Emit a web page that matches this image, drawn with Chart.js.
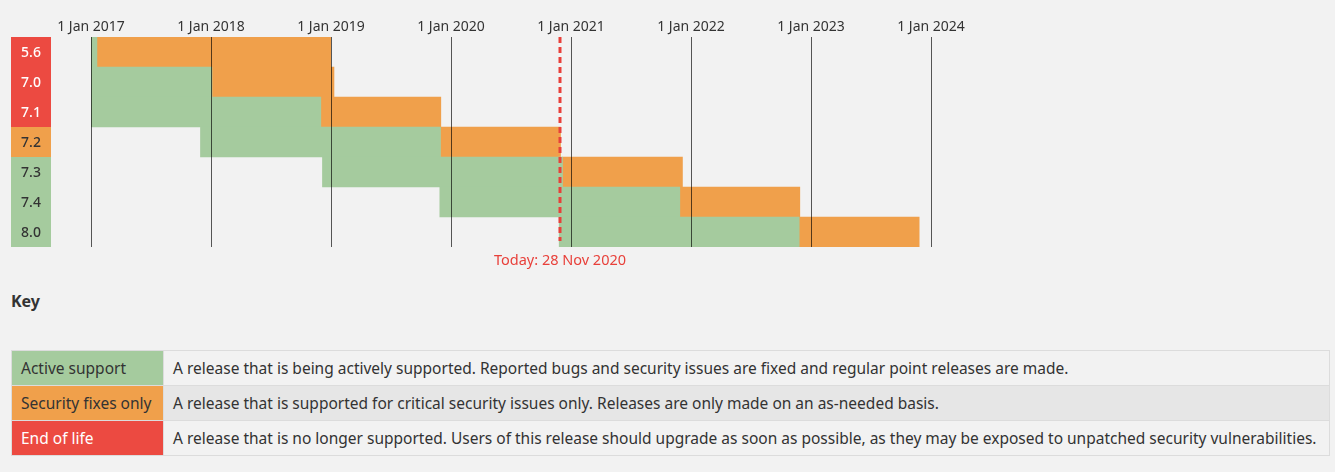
<!DOCTYPE html>
<html>
<head>
<meta charset="utf-8">
<script src="https://cdn.jsdelivr.net/npm/chart.js@4/dist/chart.umd.min.js"></script>
<style>
  body { margin: 0; background: #f2f2f2; font-family: "Noto Sans", sans-serif; color: #333; }
  #wrap { position: relative; width: 1335px; height: 280px; }
  h3 { margin: 0; position: absolute; left: 11px; top: 290px; font-size: 16px; font-weight: 700; }
  table { position: absolute; left: 11px; top: 350px; width: 1319px; border-collapse: collapse; font-size: 15.5px; }
  td { border: 1px solid #dcdcdc; height: 34px; padding: 0 0 0 9px; }
  td.k { width: 142px; }
  tr:nth-child(2) td.d { background: #e6e6e6; }
</style>
</head>
<body>
<div id="wrap"><canvas id="branches"></canvas></div>
<h3>Key</h3>
<table>
  <tr><td class="k" style="background:#a5cb9e">Active support</td><td class="d">A release that is being actively supported. Reported bugs and security issues are fixed and regular point releases are made.</td></tr>
  <tr><td class="k" style="background:#f0a04b">Security fixes only</td><td class="d">A release that is supported for critical security issues only. Releases are only made on an as-needed basis.</td></tr>
  <tr><td class="k" style="background:#ec4a41;color:#fff">End of life</td><td class="d">A release that is no longer supported. Users of this release should upgrade as soon as possible, as they may be exposed to unpatched security vulnerabilities.</td></tr>
</table>
<script>
// branches and their support dates
const versions = ['5.6', '7.0', '7.1', '7.2', '7.3', '7.4', '8.0'];
const released = ['2014-08-28', '2015-12-03', '2016-12-01', '2017-11-30', '2018-12-06', '2019-11-28', '2020-11-26'];
const activeEnd = ['2017-01-19', '2018-01-04', '2018-12-01', '2019-11-30', '2020-12-06', '2021-11-28', '2022-11-26'];
const securityEnd = ['2018-12-31', '2019-01-10', '2019-12-01', '2020-11-30', '2021-12-06', '2022-11-28', '2023-11-26'];
const status = ['eol', 'eol', 'eol', 'security', 'stable', 'stable', 'stable'];
const today = '2020-11-28';
const firstYear = 2017;
const lastYear = 2024;

const colours = { stable: '#a5cb9e', security: '#f0a04b', eol: '#ec4a41' };

// date string -> fractional year
function toYear(s) {
    const d = new Date(s + 'T00:00:00Z');
    const y = d.getUTCFullYear();
    const start = Date.UTC(y, 0, 1), end = Date.UTC(y + 1, 0, 1);
    return y + (d - start) / (end - start);
}

// coloured version boxes on the left
const versionBoxes = {
    id: 'versionBoxes',
    afterDraw(chart) {
        const ctx = chart.ctx, y = chart.scales.y;
        const h = chart.chartArea.height / versions.length;
        ctx.save();
        ctx.font = '500 14px "Noto Sans"';
        ctx.textAlign = 'center';
        ctx.textBaseline = 'middle';
        versions.forEach((v, i) => {
            const cy = y.getPixelForValue(i);
            ctx.fillStyle = colours[status[i]];
            ctx.fillRect(11, cy - h / 2, 40, h);
            ctx.fillStyle = status[i] === 'eol' ? '#fff' : '#333';
            ctx.fillText(v, 31, cy + 1);
        });
        ctx.restore();
    }
};

// dashed "today" marker
const todayLine = {
    id: 'todayLine',
    afterDraw(chart) {
        const ctx = chart.ctx, area = chart.chartArea;
        const x = Math.round(chart.scales.x.getPixelForValue(toYear(today)));
        ctx.save();
        ctx.strokeStyle = '#e8403a';
        ctx.lineWidth = 3;
        ctx.setLineDash([6, 4]);
        ctx.beginPath();
        ctx.moveTo(x, area.top);
        ctx.lineTo(x, area.bottom - 6);
        ctx.stroke();
        ctx.fillStyle = '#e8403a';
        ctx.font = '14.5px "Noto Sans"';
        ctx.textAlign = 'center';
        ctx.textBaseline = 'middle';
        ctx.fillText('Today: 28 Nov 2020', x, area.bottom + 14);
        ctx.restore();
    }
};

new Chart(document.getElementById('branches'), {
    type: 'bar',
    data: {
        labels: versions,
        datasets: [{
            label: 'Active support',
            data: versions.map((v, i) => [toYear(released[i]), toYear(activeEnd[i])]),
            backgroundColor: colours.stable
        }, {
            label: 'Security fixes only',
            data: versions.map((v, i) => [toYear(activeEnd[i]), toYear(securityEnd[i])]),
            backgroundColor: colours.security
        }]
    },
    options: {
        indexAxis: 'y',
        responsive: true,
        maintainAspectRatio: false,
        animation: false,
        grouped: false,
        categoryPercentage: 1,
        barPercentage: 1,
        borderWidth: 0,
        layout: { padding: { left: 91, right: 404, top: 0, bottom: 33 } },
        plugins: { legend: { display: false }, tooltip: { enabled: false } },
        scales: {
            x: {
                type: 'linear',
                position: 'top',
                min: firstYear,
                max: lastYear,
                afterFit: s => { s.height = 37; },
                border: { display: false },
                grid: { color: 'rgba(0,0,0,0.65)', lineWidth: 1, drawTicks: false, z: 1 },
                ticks: {
                    stepSize: 1,
                    padding: 2,
                    color: '#333',
                    font: { family: 'Noto Sans', size: 14 },
                    callback: v => '1 Jan ' + v
                }
            },
            y: { display: false }
        }
    },
    plugins: [versionBoxes, todayLine]
});
</script>
</body>
</html>
